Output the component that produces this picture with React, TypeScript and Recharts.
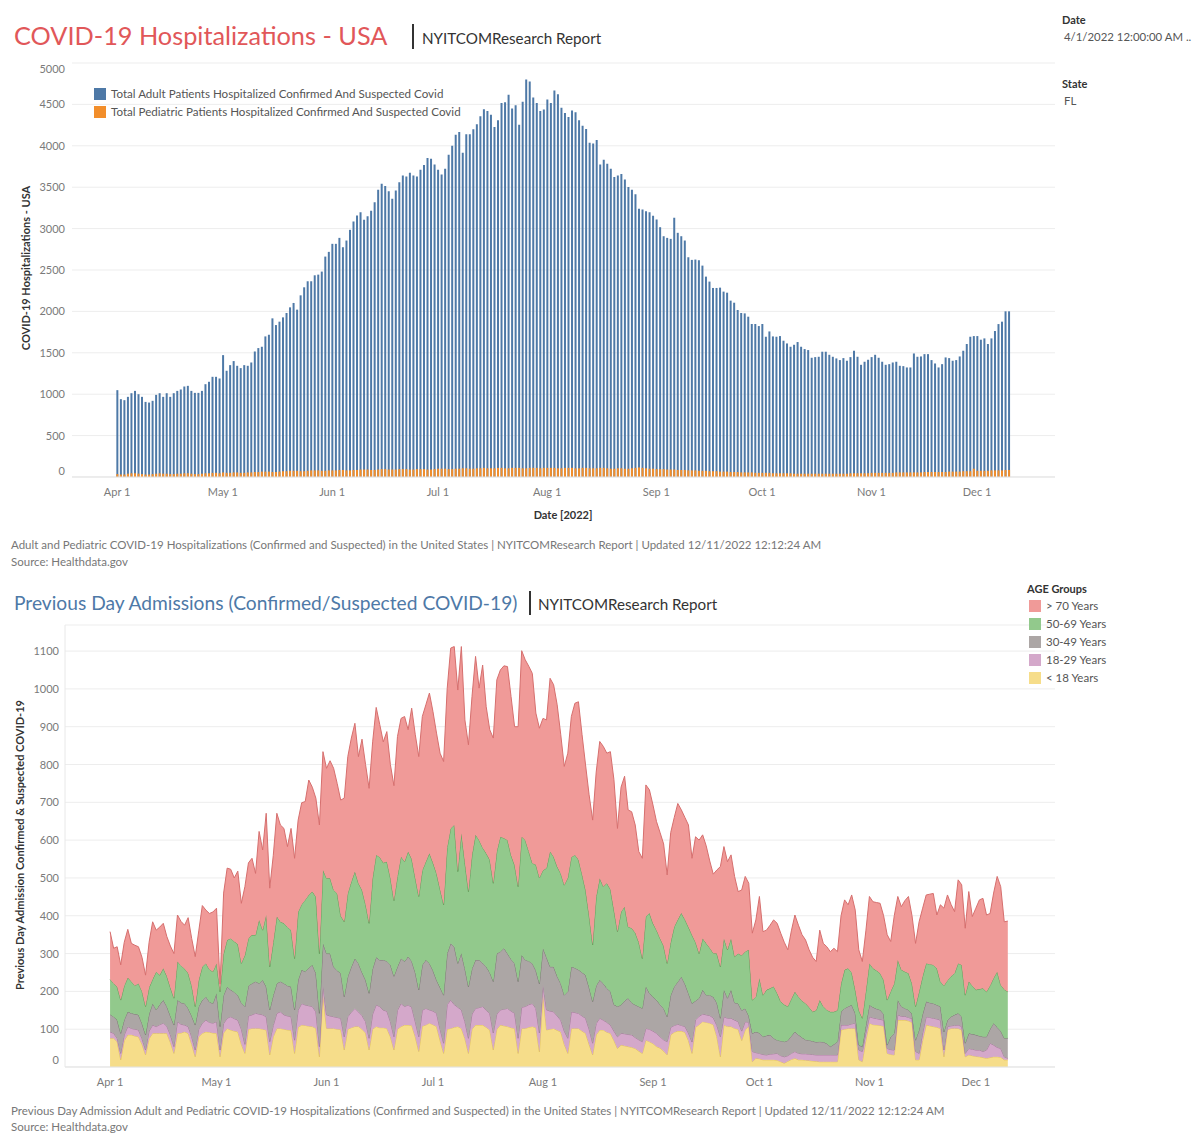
import React from 'react';
import { BarChart, Bar, XAxis, YAxis, CartesianGrid, AreaChart, Area } from 'recharts';

const FONT = 'Lato, "Open Sans", "DejaVu Sans", sans-serif';

// x axis: days since Apr 1 2022
const monthTickDays = [0, 30, 61, 91, 122, 153, 183, 214, 244];
const monthTickLabels = ['Apr 1', 'May 1', 'Jun 1', 'Jul 1', 'Aug 1', 'Sep 1', 'Oct 1', 'Nov 1', 'Dec 1'];
const hospTicks = [0, 500, 1000, 1500, 2000, 2500, 3000, 3500, 4000, 4500, 5000];
const admTicks = [0, 100, 200, 300, 400, 500, 600, 700, 800, 900, 1000, 1100];

const adultPatients = [
  1049, 940, 928, 968, 1012, 1040, 1000, 968, 907, 899, 920, 992, 1012, 968, 1012, 968, 1012, 1040, 1057, 1093,
  1101, 1040, 1016, 1016, 1040, 1121, 1150, 1210, 1210, 1190, 1472,
  1283, 1351, 1400, 1343, 1315, 1351, 1343, 1383,
  1516, 1557, 1573, 1698, 1718, 1916, 1835, 1876, 1928, 1981, 2049, 2102, 2021, 2194, 2291, 2364, 2364, 2436, 2444, 2481,
  2662, 2719, 2816, 2816, 2888, 2775, 2856, 2985, 3086, 3158, 3198, 3106, 3150, 3215, 3319, 3469, 3542, 3513, 3452, 3360,
  3461, 3561, 3642, 3630, 3675, 3642, 3630, 3711, 3767, 3852, 3844, 3775, 3711, 3654, 3723, 3893,
  4001, 4134, 4166, 3917, 4138, 4138, 4200, 4259, 4356, 4441, 4420, 4376, 4227, 4308, 4517, 4525, 4618, 4449, 4489, 4255,
  4533, 4800, 4776, 4582, 4517, 4420, 4437, 4558, 4517, 4667, 4622, 4461, 4396, 4348, 4425, 4404, 4308, 4243, 4203, 4038,
  4029, 4069, 3775, 3832, 3784, 3723, 3622, 3642, 3658, 3594, 3501, 3469, 3416, 3239, 3231, 3210, 3198, 3154, 3110, 3017,
  2908, 2888, 2876, 3130, 2949, 2908, 2856, 2654,
  2622, 2626, 2618, 2553, 2420, 2360, 2283, 2283, 2287, 2239, 2226, 2130, 2105, 2017, 1981, 1976, 1936, 1848, 1848, 1823,
  1848, 1694, 1758, 1698, 1694, 1702, 1646, 1613, 1573, 1597, 1630, 1573, 1545, 1533, 1440, 1448, 1452, 1513, 1513, 1476,
  1452, 1432, 1412,
  1436, 1404, 1448, 1525, 1452, 1355, 1392, 1416, 1448, 1476, 1440, 1392, 1355, 1363, 1383, 1392, 1343, 1339, 1323, 1323,
  1492, 1452, 1456, 1484, 1484, 1412, 1371, 1323, 1363, 1444, 1436, 1404, 1412, 1456, 1525, 1606, 1694, 1702, 1702, 1658,
  1674, 1606, 1674, 1763, 1847, 1876, 2001, 2001,
];

const pediatricPatients = [
  35, 30, 30, 40, 45, 45, 40, 35, 30, 30, 35, 40, 45, 40, 40, 35, 35, 40, 40, 45, 45, 40, 35, 35, 40, 45, 45, 50, 50, 45, 55,
  50, 50, 55, 55, 50, 50, 55, 55, 60, 60, 65, 65, 65, 60, 60, 65, 70, 70, 75, 75, 75, 70, 70, 75, 80, 80, 80, 75, 75, 80,
  80, 80, 85, 85, 80, 80, 85, 85, 90, 90, 90, 85, 85, 90, 95, 95, 90, 90, 90, 95, 95, 95, 90, 90, 95, 95, 95, 90, 90, 95, 100,
  100, 100, 95, 95, 100, 100, 105, 105, 100, 100, 105, 105, 110, 105, 105, 105, 110, 110, 105, 105, 110, 110, 110, 105, 105, 110, 110, 110, 105, 110, 110,
  110, 110, 105, 105, 110, 110, 110, 105, 105, 110, 110, 105, 105, 105, 110, 110, 105, 100, 100, 105, 105, 100, 100, 105, 110, 115, 110, 105, 100, 100, 95,
  95, 95, 90, 90, 90, 85, 85, 85, 80, 80, 80, 75, 75, 75, 70, 70, 70, 65, 65, 65, 60, 60, 60, 55, 55, 55, 55, 50, 50, 50,
  50, 50, 45, 45, 45, 45, 45, 45, 40, 40, 40, 40, 40, 40, 40, 40, 40, 40, 40, 40, 40, 40, 40, 40, 45, 45, 45, 45, 45, 45, 50,
  50, 50, 50, 50, 50, 50, 55, 55, 55, 55, 55, 55, 55, 55, 60, 60, 60, 60, 60, 60, 60, 65, 65, 65, 65, 70, 70, 70, 100, 75,
  75, 75, 75, 80, 80, 80, 80, 85, 85,
];

const ageUnder18 = [
  76, 76, 67, 19, 70, 85, 85, 82, 80, 60, 32, 75, 89, 89, 89, 89, 89, 65, 36, 89,
  90, 93, 89, 60, 27, 80, 89, 93, 92, 90, 89, 27, 90, 102, 98, 95, 93, 60, 36, 100,
  102, 102, 102, 100, 98, 32, 80, 102, 102, 100, 98, 97, 36, 105, 111, 110, 108, 107, 102, 27,
  190, 102, 102, 102, 100, 99, 45, 100, 104, 107, 107, 100, 90, 45, 100, 107, 104, 104, 102, 80,
  45, 100, 107, 111, 111, 110, 80, 41, 108, 111, 116, 112, 107, 70, 36, 100, 102, 105, 107, 102,
  75, 36, 100, 111, 111, 111, 105, 98, 45, 100, 111, 109, 107, 104, 102, 36, 102, 102, 105, 107,
  104, 40, 190, 98, 100, 102, 97, 93, 60, 36, 102, 102, 102, 95, 89, 60, 32, 85, 98, 98,
  92, 89, 70, 49, 58, 56, 54, 52, 49, 42, 36, 71, 67, 62, 54, 50, 42, 32, 85, 92,
  95, 95, 92, 70, 36, 105, 112, 120, 118, 116, 112, 80, 27, 111, 107, 107, 102, 100, 70, 98,
  108, 14, 23, 22, 19, 19, 19, 19, 18, 14, 10, 15, 20, 23, 19, 19, 18, 17, 16, 15,
  14, 14, 14, 14, 14, 14, 98, 100, 102, 102, 102, 19, 14, 70, 116, 112, 111, 110, 108, 36,
  33, 32, 124, 124, 124, 122, 118, 19, 19, 70, 111, 109, 107, 105, 102, 27, 98, 102, 102, 102,
  98, 27, 32, 30, 28, 27, 25, 23, 25, 27, 27, 26, 19, 19,
];

const age18to29 = [
  17, 13, 9, 17, 15, 22, 17, 18, 18, 15, 13, 20, 22, 18, 23, 27, 19, 20, 18, 31,
  23, 18, 18, 20, 18, 20, 27, 31, 26, 26, 31, 18, 25, 27, 35, 33, 31, 40, 24, 35,
  36, 40, 38, 38, 35, 35, 30, 40, 44, 38, 37, 36, 35, 45, 57, 54, 54, 53, 44, 27,
  27, 36, 33, 31, 31, 30, 35, 33, 41, 48, 39, 36, 30, 31, 40, 57, 56, 46, 46, 40,
  35, 50, 61, 49, 53, 48, 40, 39, 42, 44, 35, 36, 35, 30, 27, 65, 75, 60, 51, 49,
  45, 40, 40, 44, 46, 49, 45, 44, 45, 40, 40, 44, 48, 44, 40, 40, 56, 58, 60, 61,
  51, 50, 27, 53, 48, 44, 38, 31, 35, 40, 44, 42, 40, 40, 40, 40, 31, 30, 31, 26,
  26, 22, 25, 31, 31, 32, 32, 33, 29, 30, 31, 31, 33, 33, 35, 30, 30, 35, 20, 18,
  18, 15, 15, 20, 30, 20, 22, 20, 20, 20, 18, 30, 53, 22, 22, 22, 22, 20, 25, 22,
  10, 27, 15, 14, 14, 13, 15, 16, 18, 16, 17, 15, 16, 18, 17, 16, 17, 17, 17, 17,
  18, 18, 18, 18, 18, 18, 13, 11, 9, 12, 14, 26, 27, 20, 17, 18, 17, 16, 16, 13,
  13, 13, 14, 10, 10, 9, 10, 22, 17, 20, 22, 22, 22, 22, 22, 18, 9, 7, 8, 9,
  9, 9, 17, 17, 17, 18, 16, 22, 38, 31, 25, 23, 8, 4,
];

const age30to49 = [
  46, 44, 48, 53, 40, 39, 40, 40, 40, 40, 40, 45, 57, 44, 53, 61, 52, 50, 57, 57,
  57, 57, 48, 55, 66, 60, 61, 62, 54, 52, 75, 62, 75, 83, 71, 70, 66, 70, 100, 80,
  83, 84, 81, 92, 79, 84, 80, 79, 80, 83, 80, 79, 80, 80, 89, 88, 100, 110, 102, 88,
  110, 162, 165, 132, 124, 119, 106, 106, 120, 132, 128, 114, 110, 119, 120, 126, 123, 133, 132, 150,
  160, 115, 119, 119, 128, 122, 130, 124, 120, 128, 123, 107, 88, 110, 127, 135, 150, 153, 116, 150,
  140, 136, 120, 128, 126, 115, 115, 108, 136, 160, 154, 161, 145, 137, 132, 150, 138, 123, 115, 106,
  100, 130, 97, 139, 117, 119, 105, 97, 95, 124, 119, 118, 115, 115, 114, 110, 110, 100, 101, 97,
  90, 89, 70, 80, 75, 87, 96, 85, 86, 88, 88, 111, 95, 90, 88, 85, 83, 66, 85, 103,
  112, 129, 113, 105, 102, 50, 48, 64, 52, 54, 55, 60, 49, 71, 53, 75, 46, 48, 55, 35,
  17, 48, 55, 54, 47, 51, 51, 41, 35, 39, 40, 40, 46, 52, 49, 43, 37, 37, 35, 34,
  35, 34, 30, 22, 28, 35, 35, 44, 49, 50, 26, 13, 13, 20, 31, 28, 26, 25, 16, 9,
  34, 44, 39, 26, 21, 20, 12, 30, 62, 50, 40, 39, 39, 37, 36, 48, 17, 24, 28, 31,
  26, 27, 40, 40, 40, 37, 39, 35, 37, 58, 53, 46, 49, 53,
];

const age50to69 = [
  93, 88, 88, 88, 90, 90, 84, 75, 83, 85, 75, 70, 64, 101, 78, 84, 80, 75, 71, 102,
  98, 92, 93, 80, 49, 70, 88, 88, 86, 84, 79, 92, 110, 124, 136, 134, 135, 104, 136, 125,
  128, 123, 168, 132, 190, 114, 140, 177, 158, 159, 155, 150, 136, 180, 173, 190, 193, 194, 202, 158,
  194, 199, 199, 203, 204, 152, 198, 220, 225, 230, 212, 218, 200, 185, 240, 271, 272, 257, 263, 230,
  200, 239, 269, 264, 278, 270, 250, 247, 250, 260, 291, 285, 282, 260, 239, 280, 304, 322, 243, 317,
  280, 252, 300, 331, 317, 305, 300, 298, 260, 270, 304, 291, 300, 275, 260, 251, 313, 317, 290, 265,
  280, 280, 206, 236, 305, 291, 290, 291, 291, 300, 290, 299, 291, 260, 225, 190, 150, 235, 269, 256,
  278, 270, 250, 198, 246, 249, 189, 197, 191, 170, 132, 185, 212, 195, 185, 175, 165, 141, 140, 158,
  165, 168, 170, 175, 181, 155, 118, 136, 137, 125, 116, 130, 136, 136, 128, 136, 122, 132, 145, 150,
  175, 88, 93, 145, 110, 121, 123, 137, 124, 104, 98, 90, 98, 106, 101, 97, 96, 87, 78, 84,
  110, 94, 89, 92, 86, 83, 74, 102, 101, 86, 62, 92, 75, 90, 110, 103, 101, 97, 90, 119,
  120, 132, 106, 97, 97, 97, 80, 89, 101, 100, 101, 102, 102, 97, 66, 122, 105, 107, 110, 132,
  137, 127, 137, 128, 119, 124, 128, 119, 115, 119, 147, 122, 129, 123,
];

const ageOver70 = [
  126, 93, 106, 93, 115, 128, 101, 107, 97, 90, 83, 120, 152, 110, 127, 119, 105, 110, 118, 123,
  117, 115, 147, 125, 132, 130, 162, 141, 148, 158, 146, 20, 160, 190, 183, 168, 193, 159, 181, 200,
  203, 163, 234, 212, 269, 208, 230, 273, 256, 251, 213, 269, 265, 243, 269, 260, 304, 276, 261, 340,
  313, 291, 311, 322, 291, 306, 327, 362, 380, 392, 335, 399, 370, 357, 360, 390, 351, 320, 344, 300,
  304, 370, 366, 384, 322, 399, 380, 370, 407, 415, 424, 400, 371, 360, 379, 420, 477, 472, 480, 494,
  378, 388, 420, 472, 402, 483, 388, 344, 384, 454, 441, 456, 459, 420, 366, 423, 492, 477, 490, 502,
  401, 396, 402, 392, 458, 455, 428, 368, 314, 330, 372, 401, 418, 370, 331, 320, 330, 330, 362, 371,
  344, 364, 345, 273, 330, 345, 309, 308, 285, 240, 265, 348, 326, 313, 287, 280, 270, 234, 290, 289,
  307, 273, 270, 270, 203, 279, 300, 274, 258, 230, 209, 221, 265, 243, 233, 221, 212, 164, 173, 199,
  176, 177, 203, 216, 168, 158, 167, 176, 185, 181, 165, 150, 180, 203, 189, 175, 168, 152, 144, 129,
  185, 167, 167, 159, 168, 155, 180, 185, 168, 205, 211, 160, 150, 160, 177, 176, 180, 185, 170, 173,
  132, 179, 168, 167, 188, 203, 180, 167, 185, 180, 181, 185, 189, 141, 203, 205, 226, 190, 163, 221,
  212, 177, 238, 183, 216, 236, 238, 203, 191, 225, 252, 260, 179, 187,
];

const hospRows = adultPatients.map((v, i) => ({ day: i, adult: v, pediatric: pediatricPatients[i] }));
const admRows = ageUnder18.map((v, i) => ({
  day: i,
  u18: v,
  a18: age18to29[i],
  a30: age30to49[i],
  a50: age50to69[i],
  a70: ageOver70[i],
}));

const COLORS = {
  adult: '#4e79a7',
  ped: '#f28e2b',
  a70: '#f09a98',
  a70s: '#d66f6e',
  a50: '#92c98c',
  a50s: '#5f9f59',
  a30: '#aca6a5',
  a30s: '#7e7676',
  a18: '#d4a8ca',
  a18s: '#a67b9c',
  u18: '#f6dd8a',
  u18s: '#e3c45e',
};

const monthLabel = (d: number) => {
  const i = monthTickDays.indexOf(d);
  return i >= 0 ? monthTickLabels[i] : '';
};

const makeYTick = (topVal: number, topOff: number, zeroOff: number) => (props: any) => {
  const { x, y, payload } = props;
  let off = 0;
  if (payload.value === topVal) off = topOff;
  if (payload.value === 0) off = zeroOff;
  return (
    <text x={x} y={y + off + 4} textAnchor="end" fill="#7a7a7a" fontSize={11} fontFamily={FONT}>
      {payload.value}
    </text>
  );
};

const abs = (style: React.CSSProperties): React.CSSProperties => ({
  position: 'absolute',
  fontFamily: FONT,
  whiteSpace: 'nowrap',
  margin: 0,
  ...style,
});

const Swatch = ({ left, top, color }: { left: number; top: number; color: string }) => (
  <div style={{ position: 'absolute', left, top, width: 12, height: 12, background: color }} />
);

export default function App() {
  const ageLegend = [
    { label: '> 70 Years', color: COLORS.a70 },
    { label: '50-69 Years', color: COLORS.a50 },
    { label: '30-49 Years', color: COLORS.a30 },
    { label: '18-29 Years', color: COLORS.a18 },
    { label: '< 18 Years', color: COLORS.u18 },
  ];
  return (
    <div style={{ position: 'absolute', left: 0, top: 0, width: 1200, height: 1145, background: '#fff', overflow: 'hidden' }}>
      {/* Top chart */}
      <div style={{ position: 'absolute', left: 0, top: 0 }}>
        <BarChart
          width={1200}
          height={540}
          data={hospRows}
          margin={{ top: 63, right: 145, bottom: 33, left: 22 }}
          barSize={2}
          barGap={-2}
        >
          <CartesianGrid horizontal vertical={false} stroke="#ededed" />
          <XAxis
            dataKey="day"
            type="number"
            domain={[-12.8, 266.1]}
            ticks={monthTickDays}
            tickFormatter={monthLabel}
            tickSize={0}
            tickMargin={11}
            axisLine={{ stroke: '#e3e3e3' }}
            tick={{ fill: '#7a7a7a', fontSize: 11, fontFamily: FONT }}
            height={30}
            allowDataOverflow
          />
          <YAxis
            type="number"
            domain={[0, 5000]}
            ticks={hospTicks}
            width={50}
            tickSize={0}
            tickMargin={7}
            axisLine={false}
            tick={makeYTick(5000, 6, -6)}
            allowDataOverflow
          />
          <Bar dataKey="adult" fill={COLORS.adult} isAnimationActive={false} />
          <Bar dataKey="pediatric" fill={COLORS.ped} isAnimationActive={false} />
        </BarChart>
      </div>

      {/* Bottom chart */}
      <div style={{ position: 'absolute', left: 0, top: 600 }}>
        <AreaChart
          width={1200}
          height={520}
          data={admRows}
          margin={{ top: 25, right: 145, bottom: 23, left: 15 }}
        >
          <CartesianGrid horizontal vertical={false} stroke="#ededed" />
          <XAxis
            dataKey="day"
            type="number"
            domain={[-12.7, 266.3]}
            ticks={monthTickDays}
            tickFormatter={monthLabel}
            tickSize={0}
            tickMargin={11}
            axisLine={{ stroke: '#e3e3e3' }}
            tick={{ fill: '#7a7a7a', fontSize: 11, fontFamily: FONT }}
            height={30}
            allowDataOverflow
          />
          <YAxis
            type="number"
            domain={[0, 1169]}
            ticks={admTicks}
            width={50}
            tickSize={0}
            tickMargin={6}
            axisLine={{ stroke: '#e8e8e8' }}
            tick={makeYTick(-1, 0, -7)}
            allowDataOverflow
          />
          <Area type="linear" dataKey="u18" stackId="age" fill={COLORS.u18} fillOpacity={1} stroke={COLORS.u18s} strokeWidth={1} dot={false} activeDot={false} isAnimationActive={false} />
          <Area type="linear" dataKey="a18" stackId="age" fill={COLORS.a18} fillOpacity={1} stroke={COLORS.a18s} strokeWidth={1} dot={false} activeDot={false} isAnimationActive={false} />
          <Area type="linear" dataKey="a30" stackId="age" fill={COLORS.a30} fillOpacity={1} stroke={COLORS.a30s} strokeWidth={1} dot={false} activeDot={false} isAnimationActive={false} />
          <Area type="linear" dataKey="a50" stackId="age" fill={COLORS.a50} fillOpacity={1} stroke={COLORS.a50s} strokeWidth={1} dot={false} activeDot={false} isAnimationActive={false} />
          <Area type="linear" dataKey="a70" stackId="age" fill={COLORS.a70} fillOpacity={1} stroke={COLORS.a70s} strokeWidth={1} dot={false} activeDot={false} isAnimationActive={false} />
        </AreaChart>
      </div>

      {/* Header top */}
      <div style={abs({ left: 14, top: 19, fontSize: 25.3, lineHeight: '32px', color: '#e15759' })}>COVID-19 Hospitalizations - USA</div>
      <div style={{ position: 'absolute', left: 412, top: 24, width: 2, height: 25, background: '#333' }} />
      <div style={abs({ left: 422, top: 29, fontSize: 15.2, lineHeight: '18px', color: '#333' })}>NYITCOMResearch Report</div>

      <div style={abs({ left: 1062, top: 13, fontSize: 11, lineHeight: '14px', color: '#333', fontWeight: 700 })}>Date</div>
      <div style={abs({ left: 1064, top: 30, fontSize: 11.4, lineHeight: '14px', color: '#555' })}>4/1/2022 12:00:00 AM ..</div>
      <div style={abs({ left: 1062, top: 77, fontSize: 11, lineHeight: '14px', color: '#333', fontWeight: 700 })}>State</div>
      <div style={abs({ left: 1064, top: 94, fontSize: 11.4, lineHeight: '14px', color: '#555' })}>FL</div>

      {/* Top legend */}
      <Swatch left={94} top={88} color={COLORS.adult} />
      <div style={abs({ left: 111, top: 87, fontSize: 11.6, lineHeight: '14px', color: '#555' })}>Total Adult Patients Hospitalized Confirmed And Suspected Covid</div>
      <Swatch left={94} top={106} color={COLORS.ped} />
      <div style={abs({ left: 111, top: 105, fontSize: 11.6, lineHeight: '14px', color: '#555' })}>Total Pediatric Patients Hospitalized Confirmed And Suspected Covid</div>

      {/* Top axis titles */}
      <div style={abs({ left: 26, top: 268, fontSize: 11, lineHeight: '14px', color: '#333', fontWeight: 700, transform: 'translate(-50%, -50%) rotate(-90deg)' })}>COVID-19 Hospitalizations - USA</div>
      <div style={abs({ left: 563, top: 515, fontSize: 11, lineHeight: '14px', color: '#333', fontWeight: 700, transform: 'translate(-50%, -50%)' })}>Date [2022]</div>

      {/* Caption 1 */}
      <div style={abs({ left: 11, top: 538, fontSize: 11.5, lineHeight: '14px', color: '#777' })}>Adult and Pediatric COVID-19 Hospitalizations (Confirmed and Suspected) in the United States | NYITCOMResearch Report | Updated 12/11/2022 12:12:24 AM</div>
      <div style={abs({ left: 11, top: 555, fontSize: 11.5, lineHeight: '14px', color: '#777' })}>Source: Healthdata.gov</div>

      {/* Header bottom */}
      <div style={abs({ left: 14, top: 591, fontSize: 19.2, lineHeight: '24px', color: '#4e79a7' })}>Previous Day Admissions (Confirmed/Suspected COVID-19)</div>
      <div style={{ position: 'absolute', left: 529, top: 591, width: 2, height: 24, background: '#333' }} />
      <div style={abs({ left: 538, top: 595, fontSize: 15.2, lineHeight: '18px', color: '#333' })}>NYITCOMResearch Report</div>

      {/* Age legend */}
      <div style={abs({ left: 1027, top: 582, fontSize: 11, lineHeight: '14px', color: '#333', fontWeight: 700 })}>AGE Groups</div>
      {ageLegend.map((it, i) => (
        <React.Fragment key={it.label}>
          <Swatch left={1029} top={600 + i * 18} color={it.color} />
          <div style={abs({ left: 1046, top: 599 + i * 18, fontSize: 11.5, lineHeight: '14px', color: '#555' })}>{it.label}</div>
        </React.Fragment>
      ))}

      {/* Bottom axis title */}
      <div style={abs({ left: 20, top: 845, fontSize: 11, lineHeight: '14px', color: '#333', fontWeight: 700, transform: 'translate(-50%, -50%) rotate(-90deg)' })}>Previous Day Admission Confirmed &amp; Suspected COVID-19</div>

      {/* Caption 2 */}
      <div style={abs({ left: 11, top: 1104, fontSize: 11.5, lineHeight: '14px', color: '#777' })}>Previous Day Admission Adult and Pediatric COVID-19 Hospitalizations (Confirmed and Suspected) in the United States | NYITCOMResearch Report | Updated 12/11/2022 12:12:24 AM</div>
      <div style={abs({ left: 11, top: 1120, fontSize: 11.5, lineHeight: '14px', color: '#777' })}>Source: Healthdata.gov</div>
    </div>
  );
}
